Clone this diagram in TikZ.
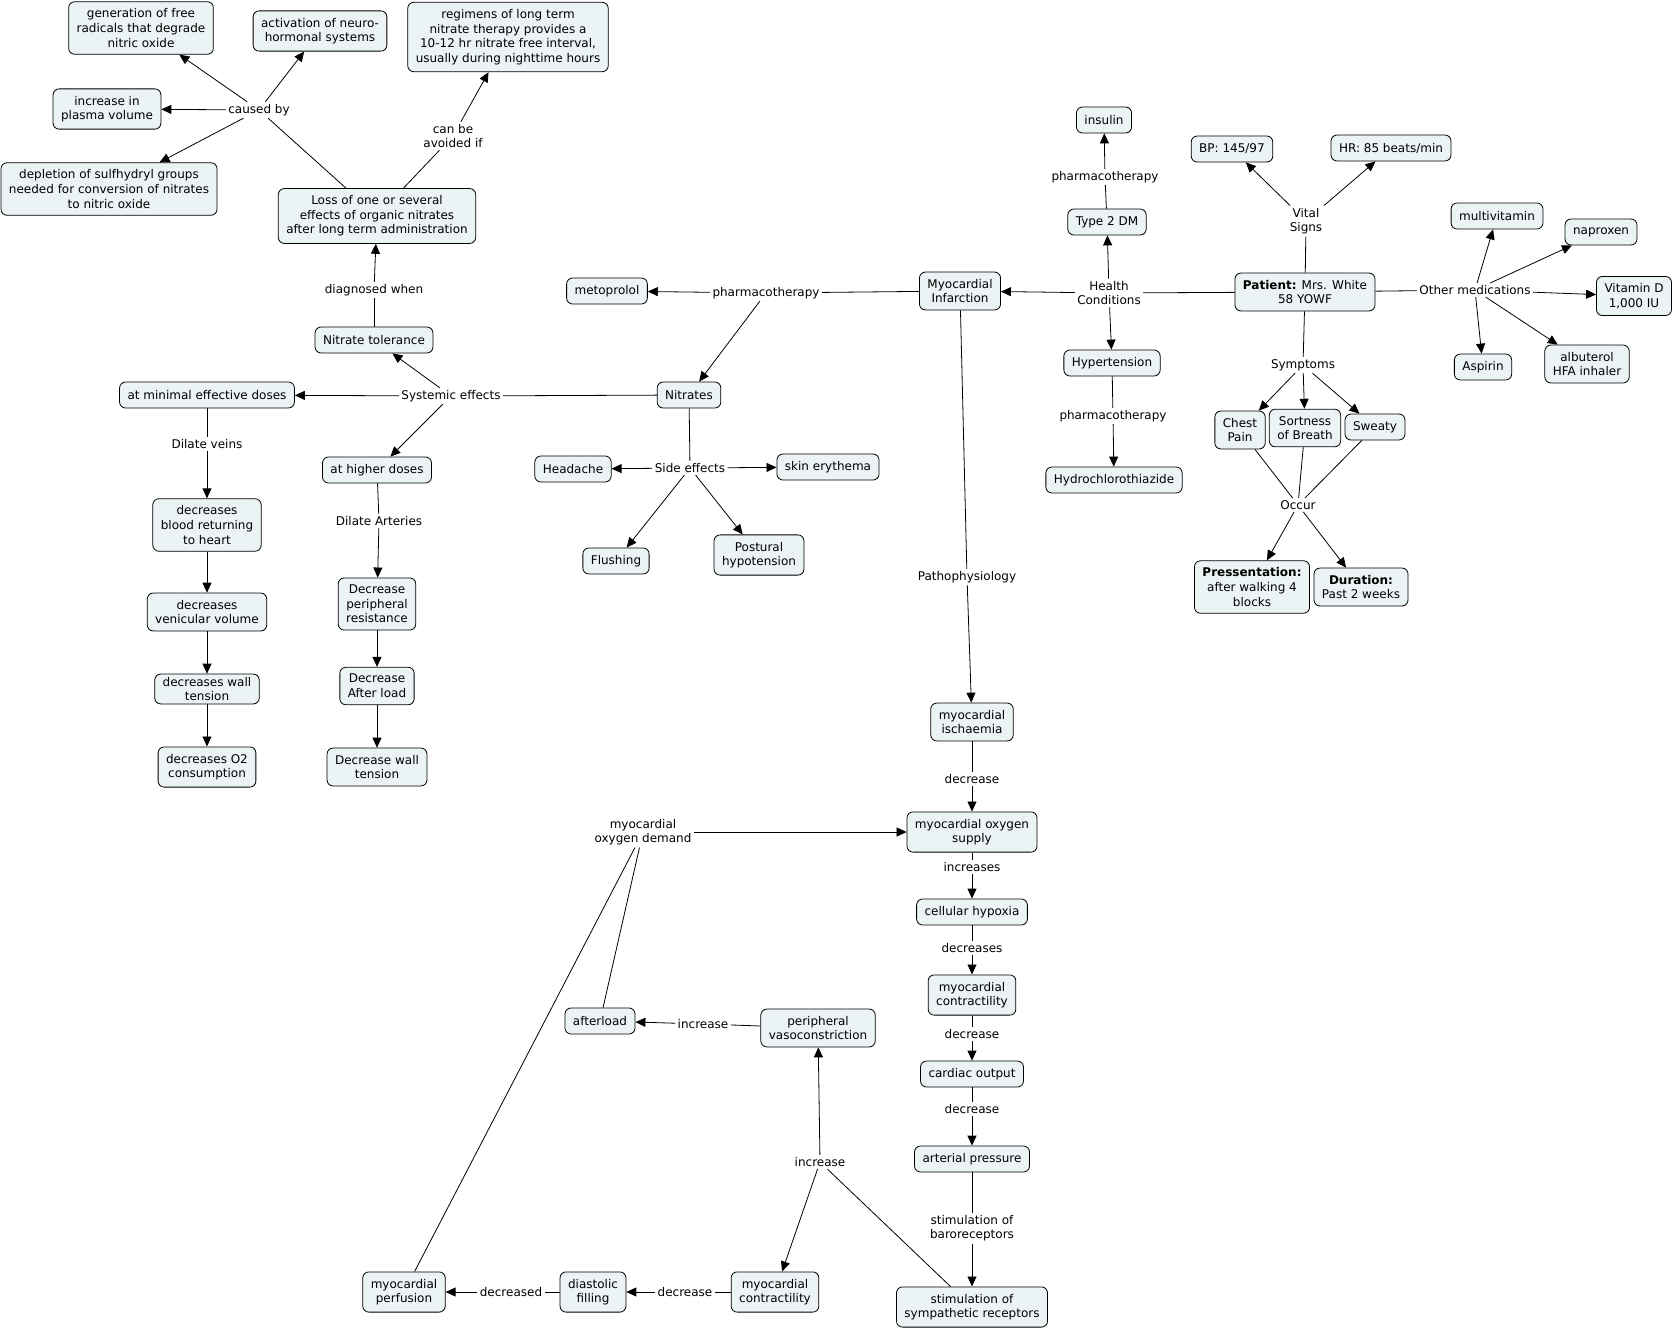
\documentclass[tikz,border=0pt]{standalone}
\usepackage{fontspec}
\setmainfont{DejaVu Sans}
\usetikzlibrary{arrows.meta}
\definecolor{boxfill}{RGB}{235,243,245}
\tikzset{every picture/.style={line width=0.8pt},
  mapbox/.style={draw, fill=boxfill, rounded corners=6pt, align=center,
    inner xsep=8pt, inner ysep=7pt, minimum height=26pt,
    font=\fontsize{12}{14.6}\selectfont},
  maplabel/.style={align=center, inner sep=2pt, font=\fontsize{12}{14.6}\selectfont},
  >={Triangle[length=10pt,width=9pt]}}

\begin{document}
\begin{tikzpicture}[x=1pt, y=-1pt]
    \useasboundingbox (0,0) rectangle (1674,1330);

    % nitrate tolerance
    \node[mapbox] (gen) at (141,28) {generation of free\\radicals that degrade\\nitric oxide};
    \node[mapbox] (activ) at (320,31) {activation of neuro-\\hormonal systems};
    \node[mapbox] (regim) at (508,37) {regimens of long term\\nitrate therapy provides a\\10-12 hr nitrate free interval,\\usually during nighttime hours};
    \node[mapbox] (plasma) at (107,109) {increase in\\plasma volume};
    \node[mapbox] (deplet) at (109,189) {depletion of sulfhydryl groups\\needed for conversion of nitrates\\to nitric oxide};
    \node[mapbox] (loss) at (377,216) {Loss of one or several\\effects of organic nitrates\\after long term administration};
    \node[mapbox] (tol) at (374,340) {Nitrate tolerance};
    \node[maplabel] (causedby) at (259,110) {caused by};
    \node[maplabel] (avoided) at (453,136) {can be\\avoided if};
    \node[maplabel] (diagnosed) at (374,290) {diagnosed when};

    \draw (loss) -- (causedby);
    \draw[->] (causedby) -- (gen);
    \draw[->] (causedby) -- (activ);
    \draw[->] (causedby) -- (plasma);
    \draw[->] (causedby) -- (deplet);
    \draw (loss) -- (avoided);
    \draw[->] (avoided) -- (regim);
    \draw (tol) -- (diagnosed);
    \draw[->] (diagnosed) -- (loss);

    % nitrates
    \node[mapbox] (nitrates) at (689,395) {Nitrates};
    \node[mapbox] (minimal) at (207,395) {at minimal effective doses};
    \node[mapbox] (higher) at (377,470) {at higher doses};
    \node[mapbox] (headache) at (573,469) {Headache};
    \node[mapbox] (skin) at (828,467) {skin erythema};
    \node[mapbox] (flush) at (616,561) {Flushing};
    \node[mapbox] (postural) at (759,555) {Postural\\hypotension};
    \node[maplabel] (systemic) at (451,396) {Systemic effects};
    \node[maplabel] (sideeff) at (690,468) {Side effects};

    \draw (nitrates) -- (systemic);
    \draw[->] (systemic) -- (tol);
    \draw[->] (systemic) -- (minimal);
    \draw[->] (systemic) -- (higher);
    \draw (nitrates) -- (sideeff);
    \draw[->] (sideeff) -- (headache);
    \draw[->] (sideeff) -- (skin);
    \draw[->] (sideeff) -- (flush);
    \draw[->] (sideeff) -- (postural);

    % veins and arteries
    \node[mapbox] (blood) at (207,525) {decreases\\blood returning\\to heart};
    \node[mapbox] (venic) at (207,612) {decreases\\venicular volume};
    \node[mapbox, inner ysep=3pt] (walltens) at (207,689) {decreases wall\\tension};
    \node[mapbox] (otwo) at (207,767) {decreases O2\\consumption};
    \node[mapbox] (periphres) at (377,604) {Decrease\\peripheral\\resistance};
    \node[mapbox] (afterld) at (377,686) {Decrease\\After load};
    \node[mapbox] (walltens2) at (377,767) {Decrease wall\\tension};
    \node[maplabel] (dilveins) at (207,444) {Dilate veins};
    \node[maplabel] (dilart) at (379,521) {Dilate Arteries};

    \draw (minimal) -- (dilveins);
    \draw[->] (dilveins) -- (blood);
    \draw[->] (blood) -- (venic);
    \draw[->] (venic) -- (walltens);
    \draw[->] (walltens) -- (otwo);
    \draw (higher) -- (dilart);
    \draw[->] (dilart) -- (periphres);
    \draw[->] (periphres) -- (afterld);
    \draw[->] (afterld) -- (walltens2);

    % patient
    \node[mapbox] (patient) at (1305,292) {\textbf{Patient:} Mrs. White\\58 YOWF};
    \node[mapbox] (mi) at (960,291) {Myocardial\\Infarction};
    \node[mapbox] (metop) at (607,291) {metoprolol};
    \node[mapbox] (insulin) at (1104,120) {insulin};
    \node[mapbox] (t2dm) at (1107,222) {Type 2 DM};
    \node[mapbox] (hyper) at (1112,363) {Hypertension};
    \node[mapbox] (hctz) at (1114,480) {Hydrochlorothiazide};
    \node[mapbox] (bp) at (1232,149) {BP: 145/97};
    \node[mapbox] (hr) at (1391,148) {HR: 85 beats/min};
    \node[mapbox] (multi) at (1497,216) {multivitamin};
    \node[mapbox] (naprox) at (1601,232) {naproxen};
    \node[mapbox] (vitd) at (1634,296) {Vitamin D\\1,000 IU};
    \node[mapbox] (aspirin) at (1483,367) {Aspirin};
    \node[mapbox] (albut) at (1587,364) {albuterol\\HFA inhaler};
    \node[mapbox] (chest) at (1240,430) {Chest\\Pain};
    \node[mapbox] (sob) at (1305,428) {Sortness\\of Breath};
    \node[mapbox] (sweaty) at (1375,427) {Sweaty};
    \node[mapbox] (present) at (1252,587) {\textbf{Pressentation:}\\after walking 4\\blocks};
    \node[mapbox] (duration) at (1361,587) {\textbf{Duration:}\\Past 2 weeks};
    \node[maplabel] (pharmmi) at (766,293) {pharmacotherapy};
    \node[maplabel] (pharmdm) at (1105,177) {pharmacotherapy};
    \node[maplabel] (pharmhyp) at (1113,416) {pharmacotherapy};
    \node[maplabel] (health) at (1109,293) {Health\\Conditions};
    \node[maplabel] (vital) at (1306,221) {Vital\\Signs};
    \node[maplabel] (othermed) at (1475,290) {Other medications};
    \node[maplabel] (symptoms) at (1303,365) {Symptoms};
    \node[maplabel] (occur) at (1298,505) {Occur};

    \draw (patient) -- (health);
    \draw[->] (health) -- (mi);
    \draw[->] (health) -- (t2dm);
    \draw[->] (health) -- (hyper);
    \draw (t2dm) -- (pharmdm);
    \draw[->] (pharmdm) -- (insulin);
    \draw (hyper) -- (pharmhyp);
    \draw[->] (pharmhyp) -- (hctz);
    \draw (mi) -- (pharmmi);
    \draw[->] (pharmmi) -- (metop);
    \draw[->] (pharmmi) -- (nitrates);
    \draw (patient) -- (vital);
    \draw[->] (vital) -- (bp);
    \draw[->] (vital) -- (hr);
    \draw (patient) -- (othermed);
    \draw[->] (othermed) -- (multi);
    \draw[->] (othermed) -- (naprox);
    \draw[->] (othermed) -- (vitd);
    \draw[->] (othermed) -- (aspirin);
    \draw[->] (othermed) -- (albut);
    \draw (patient) -- (symptoms);
    \draw[->] (symptoms) -- (chest);
    \draw[->] (symptoms) -- (sob);
    \draw[->] (symptoms) -- (sweaty);
    \draw (chest) -- (occur);
    \draw (sob) -- (occur);
    \draw (sweaty) -- (occur);
    \draw[->] (occur) -- (present);
    \draw[->] (occur) -- (duration);

    % pathophysiology
    \node[mapbox] (isch) at (972,722) {myocardial\\ischaemia};
    \node[mapbox] (supply) at (972,832) {myocardial oxygen\\supply};
    \node[mapbox] (hypoxia) at (972,912) {cellular hypoxia};
    \node[mapbox] (contr) at (972,995) {myocardial\\contractility};
    \node[mapbox] (cardout) at (972,1074) {cardiac output};
    \node[mapbox] (artpress) at (972,1159) {arterial pressure};
    \node[mapbox] (symp) at (972,1307) {stimulation of\\sympathetic receptors};
    \node[mapbox] (vasocon) at (818,1028) {peripheral\\vasoconstriction};
    \node[mapbox] (afterload) at (600,1021) {afterload};
    \node[mapbox] (contrb) at (775,1292) {myocardial\\contractility};
    \node[mapbox] (diast) at (593,1292) {diastolic\\filling};
    \node[mapbox] (perfus) at (404,1292) {myocardial\\perfusion};
    \node[maplabel] (patho) at (967,577) {Pathophysiology};
    \node[maplabel] (decra) at (972,779) {decrease};
    \node[maplabel] (incra) at (972,867) {increases};
    \node[maplabel] (decrb) at (972,948) {decreases};
    \node[maplabel] (decrc) at (972,1034) {decrease};
    \node[maplabel] (decrd) at (972,1109) {decrease};
    \node[maplabel] (baro) at (972,1228) {stimulation of\\baroreceptors};
    \node[maplabel] (incrb) at (820,1162) {increase};
    \node[maplabel] (incrc) at (703,1024) {increase};
    \node[maplabel] (decre) at (685,1292) {decrease};
    \node[maplabel] (decreased) at (511,1292) {decreased};
    \node[maplabel] (demand) at (643,832) {myocardial\\oxygen demand};

    \draw (mi) -- (patho);
    \draw[->] (patho) -- (isch);
    \draw (isch) -- (decra);
    \draw[->] (decra) -- (supply);
    \draw (supply) -- (incra);
    \draw[->] (incra) -- (hypoxia);
    \draw (hypoxia) -- (decrb);
    \draw[->] (decrb) -- (contr);
    \draw (contr) -- (decrc);
    \draw[->] (decrc) -- (cardout);
    \draw (cardout) -- (decrd);
    \draw[->] (decrd) -- (artpress);
    \draw (artpress) -- (baro);
    \draw[->] (baro) -- (symp);
    \draw (symp) -- (incrb);
    \draw[->] (incrb) -- (vasocon);
    \draw[->] (incrb) -- (contrb);
    \draw (vasocon) -- (incrc);
    \draw[->] (incrc) -- (afterload);
    \draw (contrb) -- (decre);
    \draw[->] (decre) -- (diast);
    \draw (diast) -- (decreased);
    \draw[->] (decreased) -- (perfus);
    \draw (afterload) -- (demand);
    \draw (perfus) -- (demand);
    \draw[->] (demand) -- (supply);
\end{tikzpicture}
\end{document}
